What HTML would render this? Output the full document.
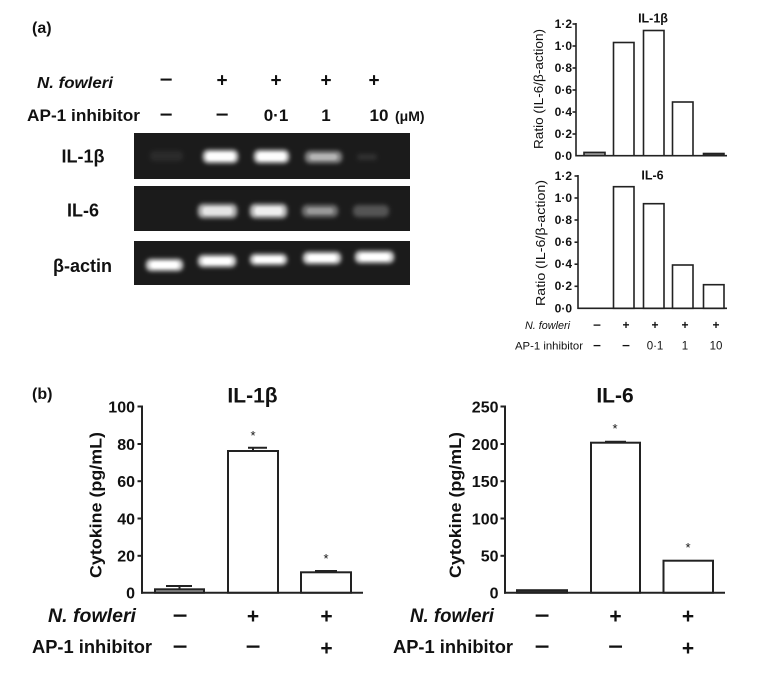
<!DOCTYPE html>
<html><head><meta charset="utf-8">
<style>
html,body{margin:0;padding:0;background:#fff;}
svg{display:block;}
text{font-family:"Liberation Sans",Arial,sans-serif;fill:#111;}
.b{font-weight:bold;}
.i{font-style:italic;}
</style></head>
<body>
<svg width="764" height="684" viewBox="0 0 764 684" xmlns="http://www.w3.org/2000/svg">
<defs>
<filter id="bl" x="-30%" y="-80%" width="160%" height="260%"><feGaussianBlur stdDeviation="2"/></filter>
<filter id="bl2" x="-30%" y="-80%" width="160%" height="260%"><feGaussianBlur stdDeviation="1.1"/></filter>
</defs>
<rect width="764" height="684" fill="#fff"/>

<!-- ===== Panel (a) gel ===== -->
<text x="32" y="33" class="b" font-size="16">(a)</text>
<text x="37" y="88" class="b i" font-size="16" textLength="76" lengthAdjust="spacingAndGlyphs">N. fowleri</text>
<g class="b" font-size="19" text-anchor="middle">
<text x="166" y="86" textLength="13" lengthAdjust="spacingAndGlyphs">−</text>
<text x="222" y="86.5">+</text>
<text x="276" y="86.5">+</text>
<text x="326" y="86.5">+</text>
<text x="374" y="86.5">+</text>
</g>
<text x="27" y="121" class="b" font-size="17" textLength="113" lengthAdjust="spacingAndGlyphs">AP-1 inhibitor</text>
<g class="b" font-size="17" text-anchor="middle">
<text x="166" y="121" font-size="19" textLength="13" lengthAdjust="spacingAndGlyphs">−</text>
<text x="222" y="121" font-size="19" textLength="13" lengthAdjust="spacingAndGlyphs">−</text>
<text x="276" y="121">0·1</text>
<text x="326" y="121">1</text>
<text x="379" y="121">10</text>
</g>
<text x="395" y="121" class="b" font-size="14">(μM)</text>

<text x="83" y="162.5" class="b" font-size="18" text-anchor="middle">IL-1β</text>
<text x="83" y="216.5" class="b" font-size="18" text-anchor="middle">IL-6</text>
<text x="82.5" y="272" class="b" font-size="18" text-anchor="middle">β-actin</text>

<rect x="134" y="133" width="276" height="46" fill="#1b1b1b"/>
<rect x="134" y="186" width="276" height="45" fill="#1b1b1b"/>
<rect x="134" y="241" width="276" height="44" fill="#1b1b1b"/>

<g filter="url(#bl)" fill="#fff">
<!-- IL-1b -->
<rect x="150" y="151" width="33" height="10" rx="4" opacity="0.07"/>
<rect x="203" y="150" width="35" height="13" rx="5" opacity="0.85"/>
<rect x="254" y="150" width="35" height="13" rx="5" opacity="0.85"/>
<rect x="305" y="151" width="37" height="12" rx="5" opacity="0.5"/>
<rect x="357" y="154" width="20" height="6" rx="3" opacity="0.1"/>
<!-- IL-6 -->
<rect x="198" y="204" width="39" height="14" rx="5" opacity="0.7"/>
<rect x="250" y="204" width="37" height="14" rx="5" opacity="0.75"/>
<rect x="302" y="205" width="36" height="12" rx="5" opacity="0.4"/>
<rect x="353" y="205" width="36" height="12" rx="5" opacity="0.25"/>
<!-- actin -->
<rect x="146" y="259" width="37" height="12" rx="5" opacity="0.85"/>
<rect x="198" y="255" width="38" height="12" rx="5" opacity="0.85"/>
<rect x="250" y="254" width="37" height="11" rx="5" opacity="0.85"/>
<rect x="303" y="252" width="38" height="12" rx="5" opacity="0.85"/>
<rect x="355" y="251" width="39" height="12" rx="5" opacity="0.85"/>
</g>
<g filter="url(#bl2)" fill="#fff">
<rect x="207" y="153" width="27" height="7" rx="3" opacity="0.95"/>
<rect x="258" y="153" width="27" height="7" rx="3" opacity="0.95"/>
<rect x="310" y="154" width="27" height="6" rx="3" opacity="0.35"/>
<rect x="203" y="207" width="29" height="8" rx="3" opacity="0.6"/>
<rect x="255" y="207" width="27" height="8" rx="3" opacity="0.7"/>
<rect x="307" y="208" width="26" height="6" rx="3" opacity="0.25"/>
<rect x="151" y="262" width="27" height="6" rx="3" opacity="1"/>
<rect x="203" y="258" width="28" height="6" rx="3" opacity="1"/>
<rect x="255" y="257" width="27" height="5" rx="2" opacity="1"/>
<rect x="308" y="255" width="28" height="6" rx="3" opacity="1"/>
<rect x="360" y="254" width="29" height="6" rx="3" opacity="1"/>
</g>

<!-- ===== Top-right small chart (IL-1b) ===== -->
<g stroke="#222" stroke-width="1.6" fill="none">
<line x1="576" y1="23" x2="576" y2="156.5"/>
<line x1="575.5" y1="155.7" x2="727" y2="155.7"/>
<line x1="572.5" y1="24" x2="576" y2="24"/>
<line x1="572.5" y1="46" x2="576" y2="46"/>
<line x1="572.5" y1="68" x2="576" y2="68"/>
<line x1="572.5" y1="90" x2="576" y2="90"/>
<line x1="572.5" y1="112" x2="576" y2="112"/>
<line x1="572.5" y1="134" x2="576" y2="134"/>
</g>
<g stroke="#222" stroke-width="1.6">
<rect x="584" y="152.4" width="21" height="3.3" fill="#999"/>
<rect x="613.5" y="42.5" width="20.5" height="113.2" fill="#fff"/>
<rect x="643.5" y="30.5" width="20.5" height="125.2" fill="#fff"/>
<rect x="672.5" y="102" width="20.5" height="53.7" fill="#fff"/>
<rect x="703.5" y="153.5" width="20.5" height="2.2" fill="#333"/>
</g>
<g class="b" font-size="12" text-anchor="end">
<text x="572" y="28">1·2</text>
<text x="572" y="50">1·0</text>
<text x="572" y="72">0·8</text>
<text x="572" y="94">0·6</text>
<text x="572" y="116">0·4</text>
<text x="572" y="138">0·2</text>
<text x="572" y="160">0·0</text>
</g>
<text transform="translate(543,89) rotate(-90)" font-size="13" text-anchor="middle" textLength="120" lengthAdjust="spacingAndGlyphs">Ratio (IL-6/β-action)</text>
<text x="653" y="22.5" class="b" font-size="12.5" text-anchor="middle">IL-1β</text>

<!-- ===== Bottom-right small chart (IL-6) ===== -->
<g stroke="#222" stroke-width="1.6" fill="none">
<line x1="578" y1="175" x2="578" y2="309"/>
<line x1="577.5" y1="308.3" x2="727" y2="308.3"/>
<line x1="574.5" y1="176" x2="578" y2="176"/>
<line x1="574.5" y1="198" x2="578" y2="198"/>
<line x1="574.5" y1="220" x2="578" y2="220"/>
<line x1="574.5" y1="242.2" x2="578" y2="242.2"/>
<line x1="574.5" y1="264.2" x2="578" y2="264.2"/>
<line x1="574.5" y1="286.3" x2="578" y2="286.3"/>
</g>
<g stroke="#222" stroke-width="1.6" fill="#fff">
<rect x="613.5" y="186.7" width="20.5" height="121.6"/>
<rect x="643.5" y="203.7" width="20.5" height="104.6"/>
<rect x="672.5" y="265" width="20.5" height="43.3"/>
<rect x="703.5" y="284.7" width="20.5" height="23.6"/>
</g>
<g class="b" font-size="12" text-anchor="end">
<text x="572" y="180">1·2</text>
<text x="572" y="202">1·0</text>
<text x="572" y="224">0·8</text>
<text x="572" y="246">0·6</text>
<text x="572" y="268">0·4</text>
<text x="572" y="290">0·2</text>
<text x="572" y="312.5">0·0</text>
</g>
<text transform="translate(545,243) rotate(-90)" font-size="13" text-anchor="middle" textLength="126" lengthAdjust="spacingAndGlyphs">Ratio (IL-6/β-action)</text>
<text x="652.5" y="179.5" class="b" font-size="12.5" text-anchor="middle">IL-6</text>

<text x="525" y="329" class="i" font-size="11" textLength="45" lengthAdjust="spacingAndGlyphs">N. fowleri</text>
<g class="b" font-size="12" text-anchor="middle">
<text x="597" y="329" textLength="8" lengthAdjust="spacingAndGlyphs">−</text>
<text x="626" y="329">+</text>
<text x="655" y="329">+</text>
<text x="685" y="329">+</text>
<text x="716" y="329">+</text>
<text x="597" y="349.5" textLength="8" lengthAdjust="spacingAndGlyphs">−</text>
<text x="626" y="349.5" textLength="8" lengthAdjust="spacingAndGlyphs">−</text>
</g>
<text x="515" y="349.5" font-size="11" textLength="68" lengthAdjust="spacingAndGlyphs">AP-1 inhibitor</text>
<g font-size="11.5" text-anchor="middle">
<text x="655" y="349.5">0·1</text>
<text x="685" y="349.5">1</text>
<text x="716" y="349.5">10</text>
</g>

<!-- ===== Panel (b) left: IL-1b ===== -->
<text x="32" y="399" class="b" font-size="16">(b)</text>
<text x="252.5" y="402.5" class="b" font-size="21" text-anchor="middle">IL-1β</text>
<g stroke="#222" stroke-width="2" fill="none">
<line x1="142" y1="405.5" x2="142" y2="593.7"/>
<line x1="141" y1="592.7" x2="363" y2="592.7"/>
<line x1="137.5" y1="406.5" x2="142" y2="406.5"/>
<line x1="137.5" y1="444" x2="142" y2="444"/>
<line x1="137.5" y1="481.2" x2="142" y2="481.2"/>
<line x1="137.5" y1="518.5" x2="142" y2="518.5"/>
<line x1="137.5" y1="555.8" x2="142" y2="555.8"/>
</g>
<g class="b" font-size="16" text-anchor="end">
<text x="135" y="412.3">100</text>
<text x="135" y="449.8">80</text>
<text x="135" y="487">60</text>
<text x="135" y="524.3">40</text>
<text x="135" y="561.6">20</text>
<text x="135" y="598.5">0</text>
</g>
<text transform="translate(101.5,505) rotate(-90)" class="b" font-size="17" text-anchor="middle" textLength="146" lengthAdjust="spacingAndGlyphs">Cytokine (pg/mL)</text>
<g stroke="#222" stroke-width="2">
<line x1="179.5" y1="589.3" x2="179.5" y2="586"/>
<line x1="166" y1="586" x2="192" y2="586"/>
<rect x="155" y="589.3" width="49" height="3.4" fill="#9a9a9a"/>
<line x1="253" y1="451" x2="253" y2="447.7"/>
<line x1="248" y1="447.7" x2="267" y2="447.7"/>
<rect x="228" y="451" width="50" height="141.7" fill="#fff"/>
<line x1="315" y1="571" x2="337" y2="571"/>
<rect x="301" y="572.3" width="50" height="20.4" fill="#fff"/>
</g>
<g font-size="13" text-anchor="middle">
<text x="253" y="440">*</text>
<text x="326" y="563">*</text>
</g>
<text x="48" y="622" class="b i" font-size="19" textLength="88" lengthAdjust="spacingAndGlyphs">N. fowleri</text>
<text x="32" y="653" class="b" font-size="18" textLength="120" lengthAdjust="spacingAndGlyphs">AP-1 inhibitor</text>
<g class="b" font-size="21" text-anchor="middle">
<text x="180" y="622.5" textLength="15" lengthAdjust="spacingAndGlyphs">−</text>
<text x="253" y="623">+</text>
<text x="326.5" y="623">+</text>
<text x="180" y="653.5" textLength="15" lengthAdjust="spacingAndGlyphs">−</text>
<text x="253" y="653.5" textLength="15" lengthAdjust="spacingAndGlyphs">−</text>
<text x="326.5" y="655">+</text>
</g>

<!-- ===== Panel (b) right: IL-6 ===== -->
<text x="615" y="402.5" class="b" font-size="21" text-anchor="middle">IL-6</text>
<g stroke="#222" stroke-width="2" fill="none">
<line x1="505" y1="405.5" x2="505" y2="593.7"/>
<line x1="504" y1="592.7" x2="725" y2="592.7"/>
<line x1="500.5" y1="406.5" x2="505" y2="406.5"/>
<line x1="500.5" y1="444" x2="505" y2="444"/>
<line x1="500.5" y1="481.2" x2="505" y2="481.2"/>
<line x1="500.5" y1="518.5" x2="505" y2="518.5"/>
<line x1="500.5" y1="555.8" x2="505" y2="555.8"/>
</g>
<g class="b" font-size="16" text-anchor="end">
<text x="498.5" y="412.3">250</text>
<text x="498.5" y="449.8">200</text>
<text x="498.5" y="487">150</text>
<text x="498.5" y="524.3">100</text>
<text x="498.5" y="561.6">50</text>
<text x="498.5" y="598.5">0</text>
</g>
<text transform="translate(461,505) rotate(-90)" class="b" font-size="17" text-anchor="middle" textLength="146" lengthAdjust="spacingAndGlyphs">Cytokine (pg/mL)</text>
<g stroke="#222" stroke-width="2">
<rect x="517" y="590.2" width="50" height="2.5" fill="#333"/>
<line x1="605" y1="441.7" x2="626" y2="441.7"/>
<rect x="591" y="442.7" width="49" height="150" fill="#fff"/>
<rect x="663.5" y="560.7" width="49.5" height="32" fill="#fff"/>
</g>
<g font-size="13" text-anchor="middle">
<text x="615" y="433">*</text>
<text x="688" y="552">*</text>
</g>
<text x="410" y="622" class="b i" font-size="19" textLength="84" lengthAdjust="spacingAndGlyphs">N. fowleri</text>
<text x="393" y="653" class="b" font-size="18" textLength="120" lengthAdjust="spacingAndGlyphs">AP-1 inhibitor</text>
<g class="b" font-size="21" text-anchor="middle">
<text x="542" y="622.5" textLength="15" lengthAdjust="spacingAndGlyphs">−</text>
<text x="615.5" y="623">+</text>
<text x="688" y="623">+</text>
<text x="542" y="653.5" textLength="15" lengthAdjust="spacingAndGlyphs">−</text>
<text x="615.5" y="653.5" textLength="15" lengthAdjust="spacingAndGlyphs">−</text>
<text x="688" y="655">+</text>
</g>
</svg>
</body></html>
